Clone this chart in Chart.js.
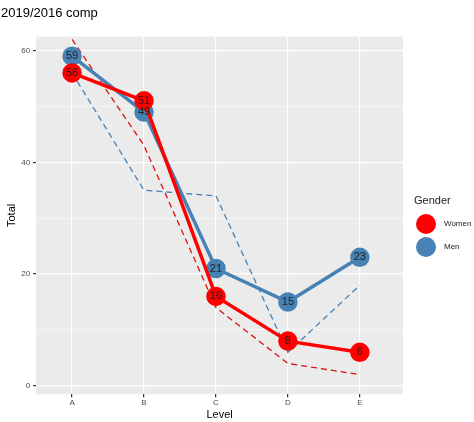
<!DOCTYPE html>
<html><head>
<script src="https://cdn.jsdelivr.net/npm/chart.js@4"></script>
<style>
body{margin:0;background:#fff;font-family:"Liberation Sans",Arial,sans-serif}
#wrap{position:relative;width:474px;height:422px}
#legend{position:absolute;left:414px;top:194px;font-size:11px;color:#222}
.it{display:flex;align-items:center;height:23px;font-size:8px}
.dot{width:20px;height:20px;border-radius:50%;margin-right:8px;margin-left:2px}
</style></head><body>
<div id="wrap"><canvas id="c" width="474" height="422"></canvas>
<div id="legend"><div style="margin-bottom:6px">Gender</div>
<div class="it"><div class="dot" style="background:#ff0000"></div>Women</div>
<div class="it"><div class="dot" style="background:#4682b4"></div>Men</div></div></div>
<script>
const levels = ['A','B','C','D','E'];
const women2019 = [56,51,16,8,6];
const men2019 = [59,49,21,15,23];
const women2016 = [62,43,14,4,2];
const men2016 = [56,35,34,6,18];

const pts = a => a.map((v,i)=>({x:i,y:v}));
const labelPlugin = {
  id:'lbl',
  afterDatasetsDraw(ch){
    const c = ch.ctx;
    c.save(); c.font='11px "Liberation Sans",Arial'; c.fillStyle='#222';
    c.textAlign='center'; c.textBaseline='middle';
    [0,1].forEach(d=>{
      ch.getDatasetMeta(d).data.forEach((p,i)=>{
        c.fillText(ch.data.datasets[d].data[i].y, p.x, p.y);
      });
    });
    c.restore();
  }
};
const panelBg = {
  id:'bg',
  beforeDraw(ch){
    const a=ch.chartArea, c=ch.ctx;
    c.save(); c.fillStyle='#ebebeb'; c.fillRect(a.left,a.top,a.right-a.left,a.bottom-a.top); c.restore();
  }
};
new Chart(document.getElementById('c'),{
  type:'line',
  data:{datasets:[
    {data:pts(women2019),borderColor:'#ff0000',backgroundColor:'#ff0000',borderWidth:3.5,pointRadius:8,pointHoverRadius:8},
    {data:pts(men2019),borderColor:'#4682b4',backgroundColor:'#4682b4',borderWidth:3.5,pointRadius:8,pointHoverRadius:8},
    {data:pts(women2016),borderColor:'#dd1111',borderWidth:1.3,borderDash:[6,4],pointRadius:0},
    {data:pts(men2016),borderColor:'#4682b4',borderWidth:1.3,borderDash:[6,4],pointRadius:0}
  ]},
  options:{
    responsive:false,animation:false,
    layout:{padding:{right:71,top:4,left:1,bottom:0}},
    plugins:{legend:{display:false},tooltip:{enabled:false},
      title:{display:true,text:'2019/2016 comp',align:'start',color:'#000',font:{size:13,weight:'normal',family:'"Liberation Sans",Arial'},padding:{top:2,bottom:15}}},
    scales:{
      x:{type:'linear',min:-0.5,max:4.6,
        afterBuildTicks(ax){ax.ticks=levels.map((l,i)=>({value:i}));},
        ticks:{callback:v=>levels[v],color:'#4d4d4d',font:{size:8},padding:1},
        grid:{color:'#fff',lineWidth:1.2,drawTicks:true,tickColor:'#333',tickLength:3},
        border:{display:false},
        title:{display:true,text:'Level',color:'#000',font:{size:11},padding:{top:0,bottom:0}}},
      y:{min:-1.5,max:62.5,
        afterBuildTicks(ax){ax.ticks=[0,10,20,30,40,50,60].map(v=>({value:v}));},
        ticks:{callback:v=>v%20===0?v:'',color:'#4d4d4d',font:{size:8}},
        grid:{color:'#fff',lineWidth:c=>c.tick&&c.tick.value%20===0?1.2:0.5,tickColor:c=>c.tick&&c.tick.value%20===0?'#333':'rgba(0,0,0,0)',tickLength:3},
        border:{display:false},
        title:{display:true,text:'Total',color:'#000',font:{size:11},padding:{bottom:0}}}
    }
  },
  plugins:[panelBg,labelPlugin]
});
</script></body></html>
